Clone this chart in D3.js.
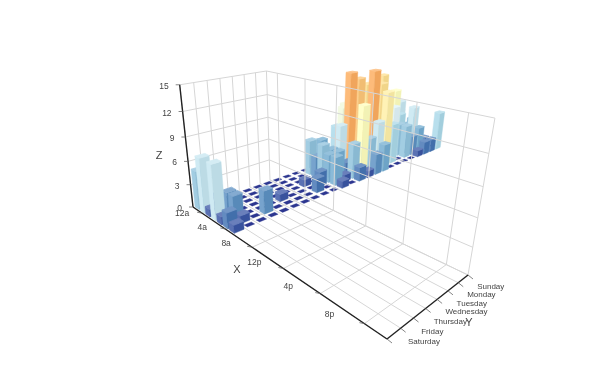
<!DOCTYPE html>
<html lang="en">
<head>
    <meta charset="UTF-8">
    <title>Punch card 3D</title>
    <script src="https://d3js.org/d3.v7.min.js"></script>
    <style>
        body { margin: 0; background: #fff; }
        svg { filter: blur(0.35px); }
        text { font-family: "Liberation Sans", Arial, sans-serif; fill: #444; }
    </style>
</head>
<body>
    <div id="chart"></div>
    <script>
        const hourLabels = ["12a", "4a", "8a", "12p", "4p", "8p"];
        const hourTicks = [0, 4, 8, 12, 16, 20];
        const days = ["Saturday", "Friday", "Thursday", "Wednesday", "Tuesday", "Monday", "Sunday"];
        const zTicks = [0, 3, 6, 9, 12, 15];
        // one row per day, one value per hour
        const saturday = [5,1,0,0,0,0,0,0,0,0,0,2,4,1,1,3,4,6,4,4,3,3,2,5];
        const friday = [7,0,0,0,0,0,0,0,0,0,5,2,2,6,9,11,6,7,8,12,5,5,7,2];
        const thursday = [1,1,0,0,0,0,0,0,0,0,3,2,1,9,8,10,6,5,5,5,7,4,2,4];
        const wednesday = [7,3,0,0,0,0,0,0,1,0,5,4,7,14,13,12,9,5,5,10,6,4,4,1];
        const tuesday = [1,3,0,0,0,1,0,0,0,2,4,4,2,4,4,14,12,1,8,5,3,7,3,0];
        const monday = [2,1,0,3,0,0,0,0,2,0,4,1,5,10,5,7,11,6,0,5,3,4,2,0];
        const sunday = [1,0,0,0,0,0,0,0,0,0,1,0,2,1,3,4,0,0,0,0,1,2,2,6];
        const rows = [saturday, friday, thursday, wednesday, tuesday, monday, sunday];
        const palette = ["#313695","#4575b4","#74add1","#abd9e9","#e0f3f8","#ffffbf","#fee090","#fdae61","#f46d43","#d73027","#a50026"];

        const width = 600, height = 367;
        const svg = d3.select("#chart").append("svg").attr("width", width).attr("height", height);

        // box corners on screen, used to calibrate the perspective
        const A = [193, 207], B = [387, 339], C = [468, 275], D = [270, 180];
        const topA = [179, 84], topD = [267, 73], topC = [495, 116];

        const dx1 = B[0] - C[0], dx2 = D[0] - C[0], sx = A[0] - B[0] + C[0] - D[0];
        const dy1 = B[1] - C[1], dy2 = D[1] - C[1], sy = A[1] - B[1] + C[1] - D[1];
        const det = dx1 * dy2 - dx2 * dy1;
        const g = (sx * dy2 - dx2 * sy) / det, h = (dx1 * sy - sx * dy1) / det;
        const a = B[0] - A[0] + g * B[0], b = D[0] - A[0] + h * D[0];
        const d = B[1] - A[1] + g * B[1], e = D[1] - A[1] + h * D[1];
        const floor = (u, v) => [a * u + b * v + A[0], d * u + e * v + A[1], g * u + h * v + 1];

        // height vector, least squares on the three known top corners
        const eqs = [];
        [[topA, 0, 0], [topD, 0, 1], [topC, 1, 1]].forEach(([p, u, v]) => {
            const f = floor(u, v);
            eqs.push([1, 0, -p[0], p[0] * f[2] - f[0]]);
            eqs.push([0, 1, -p[1], p[1] * f[2] - f[1]]);
        });
        const ata = [0, 1, 2].map(i => [0, 1, 2].map(j => d3.sum(eqs, q => q[i] * q[j])));
        const atb = [0, 1, 2].map(i => d3.sum(eqs, q => q[i] * q[3]));
        function solve3(m, r) {
            const t = m.map((row, i) => [...row, r[i]]);
            for (let i = 0; i < 3; i++) {
                for (let j = 0; j < 3; j++) {
                    if (j === i) continue;
                    const k = t[j][i] / t[i][i];
                    for (let c = i; c < 4; c++) t[j][c] -= k * t[i][c];
                }
            }
            return t.map((row, i) => row[3] / row[i]);
        }
        const up = solve3(ata, atb);

        const xMax = 23.5, yMax = 7, zMax = 15;
        const xScale = d3.scaleLinear().domain([0, xMax]).range([0, 1]);
        const yScale = d3.scaleLinear().domain([0, yMax]).range([0, 1]);
        const zScale = d3.scaleLinear().domain([0, zMax]).range([0, 1]);
        const colorScale = d3.scaleLinear().domain(palette.map((c, i) => i * 2)).range(palette);
        const hourTickOffset = 1.72;

        function project(x, y, z) {
            const f = floor(xScale(x), yScale(y));
            const t = zScale(z);
            const w = f[2] + t * up[2];
            return [(f[0] + t * up[0]) / w, (f[1] + t * up[1]) / w];
        }
        const lineGen = d3.line();

        function gridLayer(cls, segs, color, w) {
            svg.append("g").attr("class", cls).selectAll("path").data(segs).join("path")
                .attr("d", s => lineGen(s))
                .attr("fill", "none")
                .attr("stroke", color)
                .attr("stroke-width", w);
        }
        const xGrid = hourTicks.map(t => t + hourTickOffset);
        const yGrid = d3.range(0, 8);
        const gridColor = "#d6d6d6";

        // left wall and floor
        gridLayer("wall-left", [
            ...yGrid.map(y => [project(0, y, 0), project(0, y, zMax)]),
            ...zTicks.slice(1).map(z => [project(0, 0, z), project(0, yMax, z)])
        ], gridColor, 1);
        gridLayer("floor", [
            ...xGrid.map(x => [project(x, 0, 0), project(x, yMax, 0)]),
            ...yGrid.map(y => [project(0, y, 0), project(xMax, y, 0)])
        ], gridColor, 1);

        // bars, far to near
        const cells = [];
        rows.forEach((row, i) => row.forEach((v, j) => cells.push({x: i, y: j, v: v})));
        cells.sort((p, q) => d3.descending(p.y, q.y) || d3.ascending(p.x, q.x));
        const inset = 0.12;

        function drawBars(list) {
            const group = svg.append("g");
            list.forEach(c => {
                const x0 = c.x + inset, x1 = c.x + 1 - inset;
                const y0 = c.y + inset, y1 = c.y + 1 - inset;
                const col = d3.color(colorScale(c.v));
                const poly = (pts, fill, sw) => group.append("path")
                    .attr("d", lineGen(pts) + "Z")
                    .attr("fill", fill)
                    .attr("stroke", fill)
                    .attr("stroke-width", sw)
                    .attr("stroke-linejoin", "round");
                if (c.v === 0) {
                    // empty hours are only a flat tile, with a clear gap around it
                    poly([project(c.x + 0.24, c.y + 0.2, 0), project(c.x + 0.76, c.y + 0.2, 0),
                          project(c.x + 0.76, c.y + 0.8, 0), project(c.x + 0.24, c.y + 0.8, 0)], "#2c3690", 0.3);
                    return;
                }
                poly([project(x0, y0, 0), project(x1, y0, 0), project(x1, y0, c.v), project(x0, y0, c.v)],
                    d3.interpolateRgb(col, "#fff")(0.16), 0.4);
                poly([project(x1, y0, 0), project(x1, y1, 0), project(x1, y1, c.v), project(x1, y0, c.v)],
                    d3.interpolateRgb(col, "#000")(0.05), 0.4);
                poly([project(x0, y0, c.v), project(x1, y0, c.v), project(x1, y1, c.v), project(x0, y1, c.v)],
                    d3.interpolateRgb(col, "#fff")(0.24), 0.8);
            });
        }
        drawBars(cells.filter(c => c.y >= yMax));

        // back wall sits in front of the bars that run past it
        gridLayer("wall-back", [
            ...xGrid.map(x => [project(x, yMax, 0), project(x, yMax, zMax)]),
            [project(xMax, yMax, 0), project(xMax, yMax, zMax)],
            ...zTicks.map(z => [project(0, yMax, z), project(xMax, yMax, z)])
        ], gridColor, 1);
        drawBars(cells.filter(c => c.y < yMax));

        // axes
        gridLayer("axis", [
            [project(0, 0, 0), project(0, 0, zMax)],
            [project(0, 0, 0), project(xMax, 0, 0)],
            [project(xMax, 0, 0), project(xMax, yMax, 0)]
        ], "#222", 1.4);
        const tick = (p, dx, dy) => [p, [p[0] + dx, p[1] + dy]];
        gridLayer("ticks", [
            ...xGrid.map(x => tick(project(x, 0, 0), -5, -1)),
            ...yGrid.map(y => tick(project(xMax, y, 0), 5, 4)),
            ...zTicks.map(z => tick(project(0, 0, z), -4, 0))
        ], "#666", 0.8);

        function labels(data, font, anchor, pos, txt) {
            svg.append("g").selectAll("text").data(data).join("text")
                .attr("x", pos[0]).attr("y", pos[1])
                .attr("text-anchor", anchor)
                .attr("dominant-baseline", "central")
                .attr("font-size", font)
                .text(txt);
        }
        labels(hourTicks, 8.5, "middle",
            [t => project(t + hourTickOffset, 0, 0)[0] - 20 - 0.75 * t, t => project(t + hourTickOffset, 0, 0)[1] - 0.5 * t],
            (t, i) => hourLabels[i]);
        labels(days, 8, "start",
            [(t, i) => project(xMax, i + 0.5, 0)[0] + 14, (t, i) => project(xMax, i + 0.5, 0)[1] + 8],
            t => t);
        labels(zTicks, 8.5, "end",
            [t => project(0, 0, t)[0] - 11, t => project(0, 0, t)[1] + 1],
            t => t);
        labels(["X"], 11, "middle", [237, 269], t => t);
        labels(["Y"], 11, "middle", [469, 322], t => t);
        labels(["Z"], 11, "middle", [159, 155], t => t);
    </script>
</body>
</html>
